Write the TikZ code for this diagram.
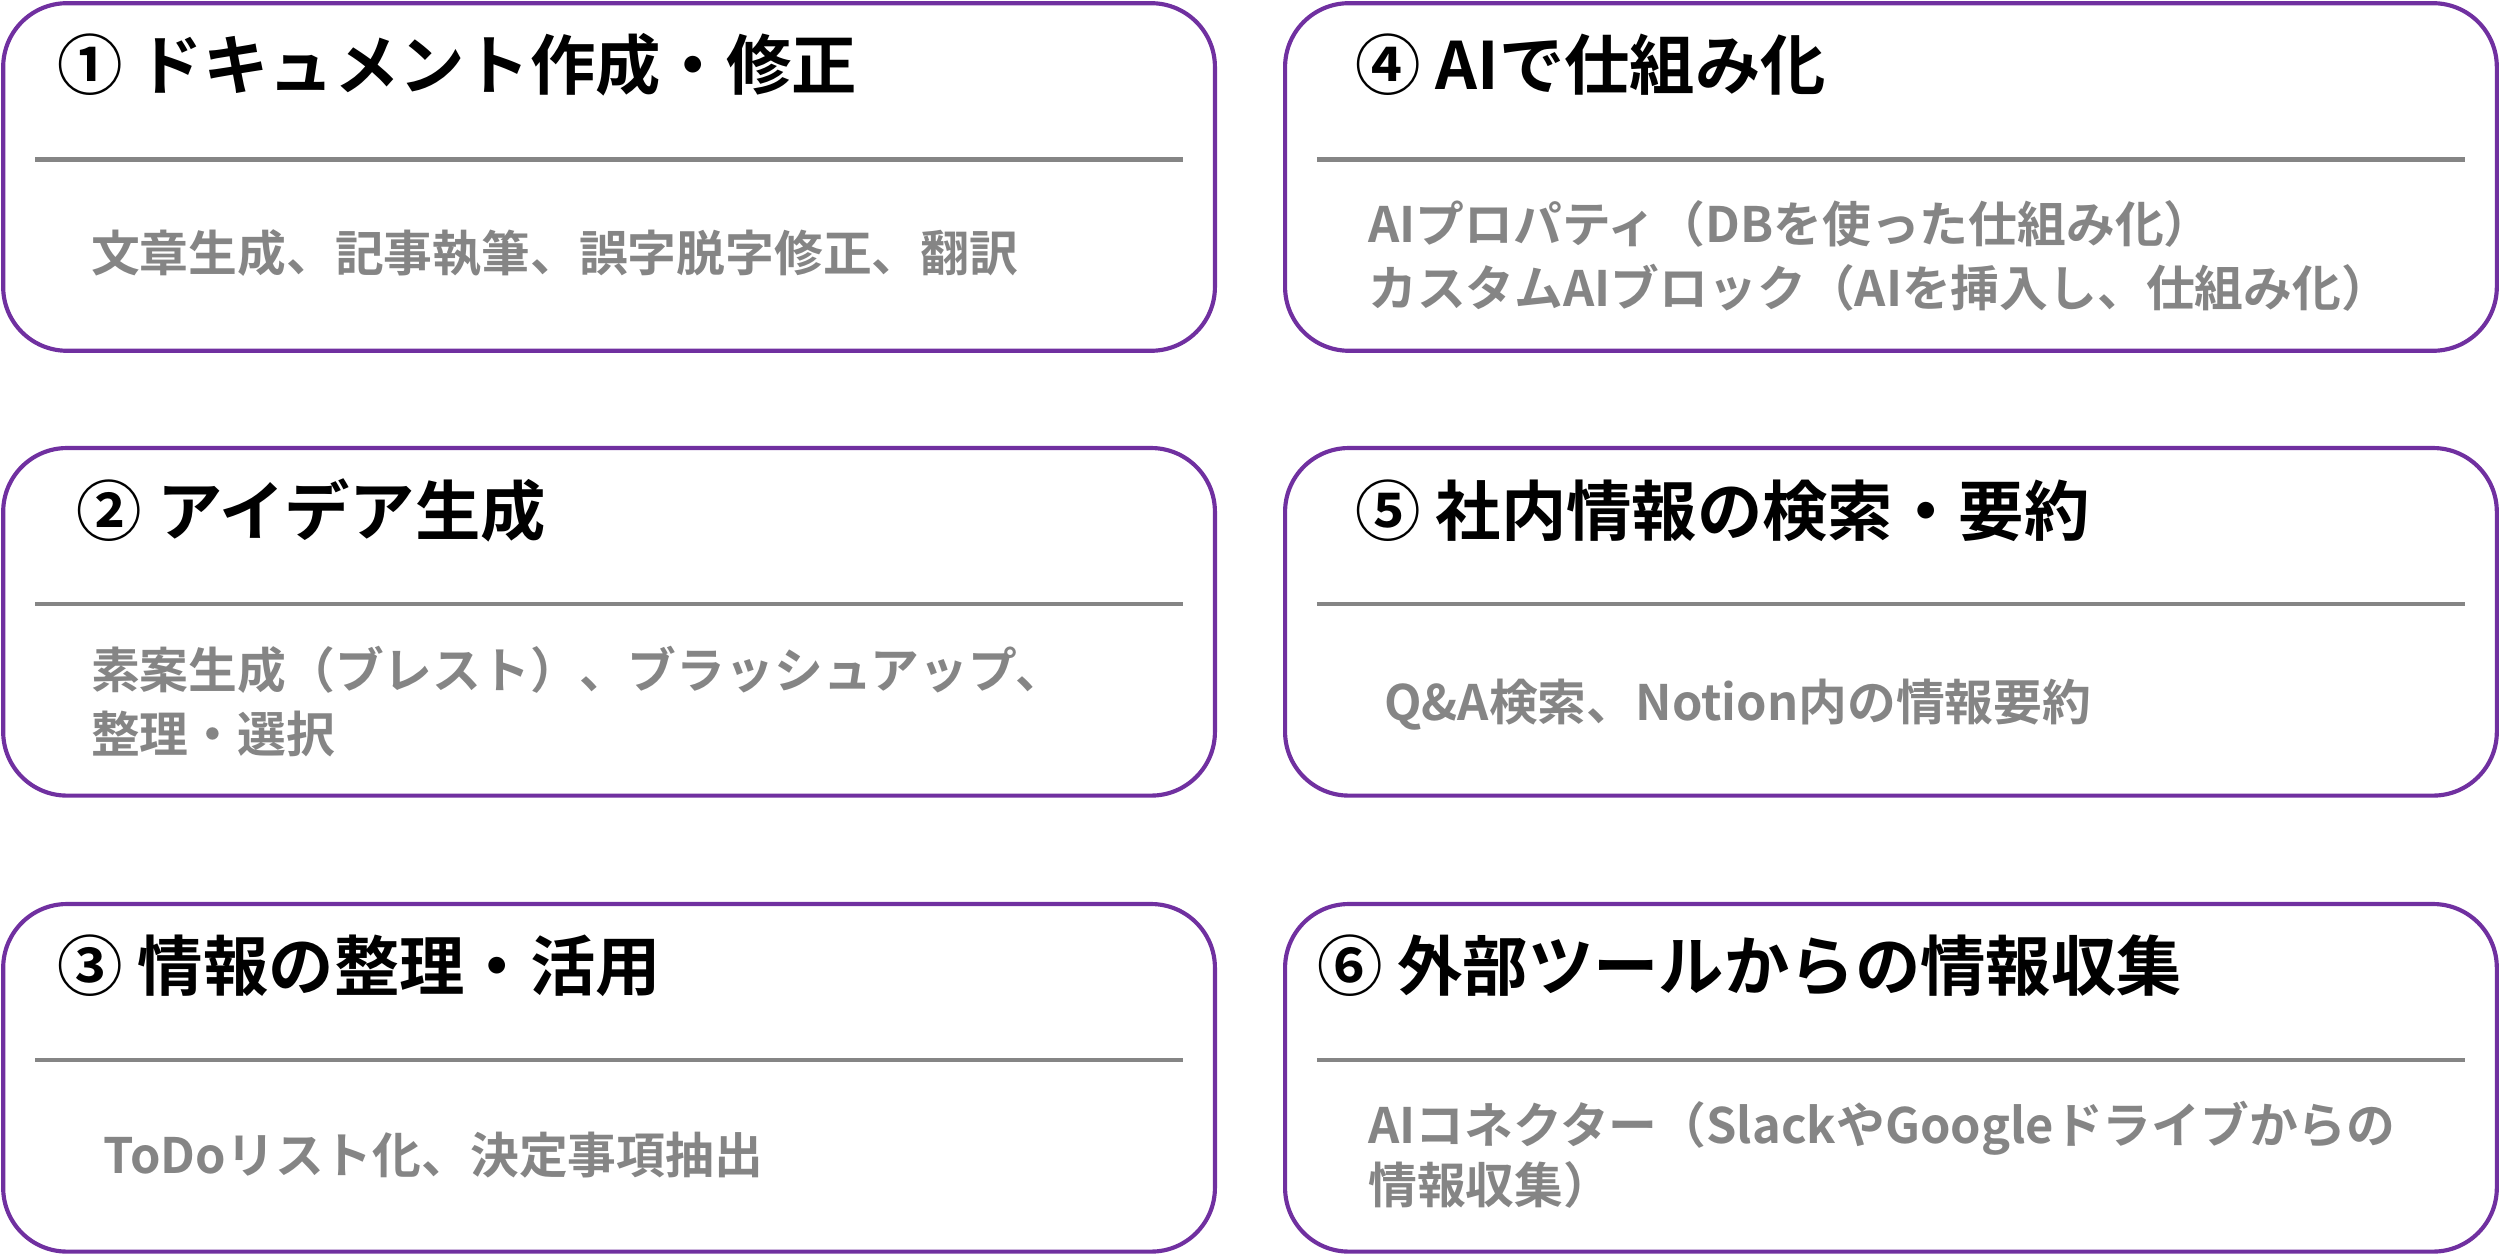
\documentclass[tikz,border=0pt]{standalone}
\usepackage{fontspec}
\newfontfamily\jp{Noto Sans CJK JP}[BoldFont={Noto Sans CJK JP Bold}]
\definecolor{pur}{HTML}{7030A0}
\definecolor{gr}{HTML}{858585}
\begin{document}
\begin{tikzpicture}[x=1pt,y=-1pt,
 card/.style={draw=pur,line width=2.6pt,rounded corners=40pt},
 sep/.style={draw=gr,line width=2.6pt},
 ttl/.style={anchor=base west,inner sep=0,font=\jp\bfseries\fontsize{41}{44}\selectfont},
 body/.style={anchor=base west,inner sep=0,text=gr,font=\jp\bfseries\fontsize{30.6}{40}\selectfont}]
\useasboundingbox (0,0) rectangle (1568,787);
\foreach \y/\n in {2/a,281/b,567/c}{
 \draw[card] (2,\y) rectangle (762,\y+218);
 \draw[card] (806,\y) rectangle (1566,\y+218);
 \draw[sep] (22,\y+98) -- (742,\y+98);
 \draw[sep] (826,\y+98) -- (1546,\y+98);
}
\node[ttl] (t1) at (36,56) {① ドキュメント作成・修正};
\node[body] (b1) at (57,170) {文章生成、記事執筆、誤字脱字修正、翻訳};
\node[ttl] (t2) at (48,336) {② アイデア生成};
\node[body] (b2) at (57,432) {素案生成（ブレスト）、ブラッシュアップ、};
\node[body] (b2b) at (57,472) {整理・選択};
\node[ttl] (t3) at (36,621) {③ 情報の整理・活用};
\node[body] (b3) at (65,736) {ToDoリスト化、決定事項抽出};
\node[ttl] (t4) at (850,56) {④ AIで仕組み化};
\node[body] (b4) at (858,152) {AIプロパティ（DBを使った仕組み化）};
\node[body] (b4b) at (858,192) {カスタムAIブロック（AIを挿入し、仕組み化）};
\node[ttl] (t5) at (850,336) {⑤ 社内情報の検索・要約};
\node[body] (b5) at (868,452) {Q\&A検索、Notion内の情報要約};
\node[ttl] (t6) at (826,621) {⑥ 外部ツールからの情報収集};
\node[body] (b6) at (858,717) {AIコネクター（SlackやGoogleドライブからの};
\node[body] (b6b) at (858,755) {情報収集）};
\end{tikzpicture}
\end{document}
